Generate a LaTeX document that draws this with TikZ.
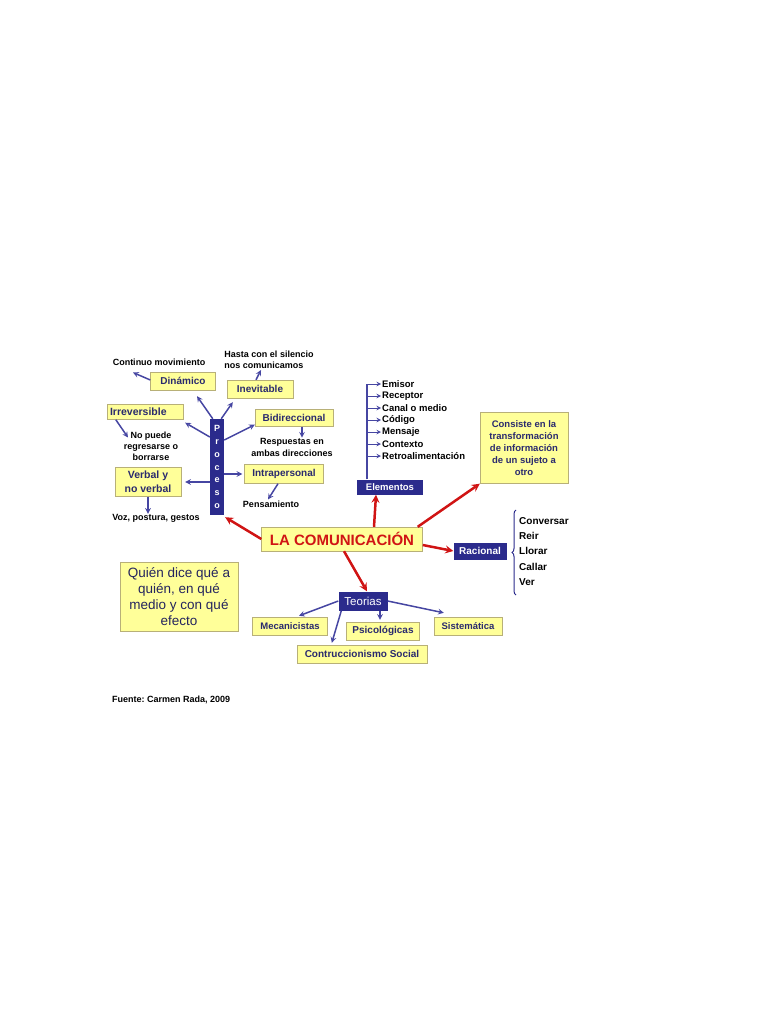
\documentclass[tikz,border=0pt]{standalone}
\usepackage{fontspec}
\setmainfont{Liberation Sans}
\frenchspacing
\usetikzlibrary{arrows, decorations.pathreplacing}
\definecolor{boxyellow}{HTML}{FFFF99}
\definecolor{boxline}{HTML}{B8B078}
\definecolor{navy}{HTML}{2B2B8C}
\definecolor{arrowblue}{HTML}{4646A2}
\definecolor{arrowred}{HTML}{D01414}
\definecolor{labelblue}{HTML}{2A2A6E}
\tikzstyle{concept} = [rectangle, draw=boxline, fill=boxyellow, text=labelblue, inner sep=1pt, font=\fontsize{10}{12}\selectfont\bfseries]
\tikzstyle{heading} = [rectangle, fill=navy, text=white, inner sep=1pt, font=\fontsize{9.5}{11}\selectfont\bfseries]
\tikzstyle{note} = [inner sep=0pt, text=black, font=\fontsize{9}{11}\selectfont\bfseries]
\tikzstyle{arrow} = [draw=arrowblue, line width=1.5pt, ->, >=stealth]
\tikzstyle{redarrow} = [draw=arrowred, line width=2.5pt, ->, >=stealth]

\begin{document}
\begin{tikzpicture}[x=1pt, y=-1pt]
\useasboundingbox (0,0) rectangle (768,1024);

\node at (217,467) (proceso) [heading, minimum width=14pt, minimum height=96pt, align=center, font=\fontsize{9}{12.7}\selectfont\bfseries] {P\\r\\o\\c\\e\\s\\o};
\node at (183,381) (dinamico) [concept, minimum width=65pt, minimum height=18pt] {Dinámico};
\node at (159,362) (continuo) [note] {Continuo movimiento};
\node at (260,389) (inevitable) [concept, minimum width=66pt, minimum height=18pt] {Inevitable};
\node at (269,360) (hasta) [note, align=left] {Hasta con el silencio\\nos comunicamos};
\node at (145,412) (irreversible) [concept, minimum height=15pt, inner xsep=3pt, text width=70pt, align=left, font=\fontsize{10.5}{12}\selectfont\bfseries] {Irreversible};
\node at (151,446) (nopuede) [note, align=center] {No puede\\regresarse o\\borrarse};
\node at (294,418) (bidireccional) [concept, minimum width=78pt, minimum height=17pt] {Bidireccional};
\node at (292,447) (respuestas) [note, align=center, font=\fontsize{9}{12}\selectfont\bfseries] {Respuestas en\\ambas direcciones};
\node at (284,474) (intrapersonal) [concept, minimum width=79pt, minimum height=19pt] {Intrapersonal};
\node at (271,504) (pensamiento) [note] {Pensamiento};
\node at (148,482) (verbal) [concept, minimum width=66pt, minimum height=29pt, align=center, font=\fontsize{10.5}{14}\selectfont\bfseries] {Verbal y\\no verbal};
\node at (156,518) (voz) [note] {Voz, postura, gestos};

\node at (342,539) (lacom) [concept, minimum width=161pt, minimum height=24pt, text=arrowred, font=\fontsize{15}{17}\selectfont\bfseries] {LA COMUNICACIÓN};

\node at (390,487) (elementos) [heading, minimum width=66pt, minimum height=15pt] {Elementos};
\coordinate (spinetop) at (367,384);
\foreach \txt [count=\i] in {Emisor, Receptor, Canal o medio, Código, Mensaje, Contexto, Retroalimentación}
  \node at (382,{372+12*\i}) (e\i) [note, anchor=west, font=\fontsize{9.5}{11}\selectfont\bfseries] {\txt};

\node at (524,448) (consiste) [concept, minimum width=88pt, minimum height=71pt, align=center, font=\fontsize{9.5}{12}\selectfont\bfseries] {Consiste en la\\transformación\\de información\\de un sujeto a\\otro};

\node at (480,551) (racional) [heading, minimum width=53pt, minimum height=17pt, font=\fontsize{10}{12}\selectfont\bfseries] {Racional};
\foreach \y/\txt [count=\i] in {521/Conversar, 536/Reir, 551/Llorar, 567/Callar, 582/Ver}
  \node at (519,\y) (r\i) [note, anchor=west, font=\fontsize{10}{12}\selectfont\bfseries] {\txt};

\node at (363,601) (teorias) [heading, minimum width=49pt, minimum height=19pt, font=\fontsize{11.5}{13}\selectfont] {Teorias};
\node at (290,626) (mecanicistas) [concept, minimum width=75pt, minimum height=18pt, font=\fontsize{9.5}{11}\selectfont\bfseries] {Mecanicistas};
\node at (383,631) (psicologicas) [concept, minimum width=73pt, minimum height=18pt] {Psicológicas};
\node at (468,626) (sistematica) [concept, minimum width=68pt, minimum height=18pt, font=\fontsize{9.5}{11}\selectfont\bfseries] {Sistemática};
\node at (362,654) (contrucc) [concept, minimum width=130pt, minimum height=18pt] {Contruccionismo Social};

\node at (179,597) (quien) [concept, minimum width=118pt, minimum height=69pt, align=center, text=labelblue!85!black, font=\fontsize{13.5}{16}\selectfont] {Quién dice qué a\\quién, en qué\\medio y con qué\\efecto};

\node at (112,700) (fuente) [note, anchor=west] {Fuente: Carmen Rada, 2009};

\draw [arrow] (proceso.95) -- ([shift={(14,6)}]dinamico.south);
\draw [arrow] (proceso.85) -- ([shift={(6,4)}]inevitable.south west);
\draw [arrow] ([shift={(0,-30)}]proceso.west) -- ([shift={(2,3)}]irreversible.south east);
\draw [arrow] ([shift={(0,-27)}]proceso.east) -- ([shift={(0,-2)}]bidireccional.south west);
\draw [arrow, shorten >=4pt] (proceso.west |- verbal.east) -- (verbal.east);
\draw [arrow, shorten >=2pt] (proceso.east |- intrapersonal.west) -- (intrapersonal.west);

\draw [arrow] ([shift={(0,-1)}]dinamico.west) -- ([shift={(-26,7)}]continuo.south);
\draw [arrow] ([shift={(-4,0)}]inevitable.north) -- ([shift={(-8,1)}]hasta.south);
\draw [arrow] ([shift={(9,0)}]irreversible.south west) -- ([shift={(-23,6)}]nopuede.north);
\draw [arrow] ([shift={(8,0)}]bidireccional.south) -- ([shift={(10,0)}]respuestas.north);
\draw [arrow] ([shift={(-6,0)}]intrapersonal.south) -- ([shift={(-3,-1)}]pensamiento.north);
\draw [arrow] (verbal.south) -- (verbal.south |- voz.north);

\draw [arrowblue, line width=1.5pt] (elementos.north -| spinetop) -- (spinetop);
\foreach \i in {1,...,7}
  \draw [arrow, line width=1pt, shorten >=1pt] (e\i.west -| spinetop) -- (e\i.west);

\draw [navy, line width=1pt, decorate, decoration={brace, amplitude=4pt, mirror}] (516,510) -- (516,595);

\draw [arrow] (teorias.west) -- ([shift={(9,-1)}]mecanicistas.north);
\draw [arrow] ([shift={(17,0)}]teorias.south) -- ([shift={(-3,-2)}]psicologicas.north);
\draw [arrow] (teorias.east) -- ([shift={(10,-4)}]sistematica.north west);
\draw [arrow] ([shift={(3,0)}]teorias.south west) -- ([shift={(35,-2)}]contrucc.north west);

\draw [redarrow] (lacom.west) -- ([shift={(1,2)}]proceso.south east);
\draw [redarrow] ([shift={(32,0)}]lacom.north) -- ([shift={(-14,0)}]elementos.south);
\draw [redarrow] ([shift={(-5,0)}]lacom.north east) -- (consiste.south west);
\draw [redarrow] ([shift={(0,6)}]lacom.east) -- (racional.west);
\draw [redarrow] ([shift={(2,0)}]lacom.south) -- ([shift={(4,0)}]teorias.north);

\end{tikzpicture}
\end{document}
